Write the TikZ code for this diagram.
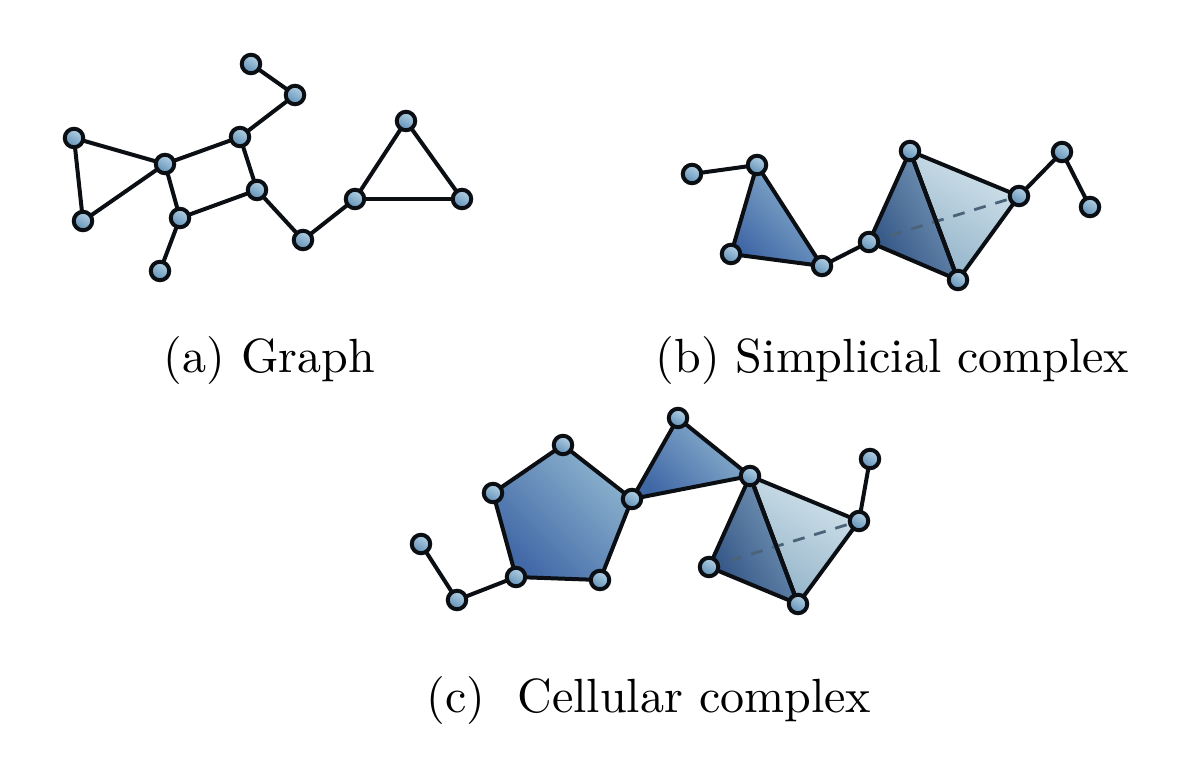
\documentclass[tikz,border=0pt]{standalone}
\usetikzlibrary{backgrounds}
\definecolor{ink}{HTML}{0B0F14}
\definecolor{ballhi}{HTML}{B4D2E4}
\definecolor{balllo}{HTML}{6190B8}
\definecolor{facehi}{HTML}{8FB5CF}
\definecolor{facelo}{HTML}{4067A6}
\definecolor{tetdhi}{HTML}{7C9CB9}
\definecolor{tetdlo}{HTML}{2F5284}
\definecolor{tetlhi}{HTML}{D3E4EC}
\definecolor{tetllo}{HTML}{93B3C9}
\definecolor{hidden}{HTML}{4A6378}
\tikzset{
  x=1pt,y=-1pt,
  vert/.style={circle,draw=ink,line width=4pt,minimum size=18.5pt,inner sep=0pt,shading=axis,top color=ballhi,bottom color=balllo,shading angle=-30},
  edgeline/.style={draw=ink,line width=4pt,line cap=round,line join=round},
  facebox/.style={edgeline,shading=axis,top color=facehi,bottom color=facelo,shading angle=-45},
  darkface/.style={edgeline,shading=axis,top color=tetdhi,bottom color=tetdlo,shading angle=-60},
  lightface/.style={edgeline,shading=axis,top color=tetlhi,bottom color=tetllo,shading angle=-30},
  hiddenedge/.style={draw=hidden,line width=2.8pt,dash pattern=on 12pt off 10pt},
  captext/.style={font=\fontsize{10}{12}\selectfont,scale=4.8,transform shape,anchor=base west,inner sep=0pt}
}
\begin{document}
\begin{tikzpicture}
\useasboundingbox (0,0) rectangle (1200,771);
\foreach \n/\p in {a1/{251,64},a2/{295,95},a3/{240,137},a4/{74,138},a5/{165,164},a6/{83,221},a7/{257,190},a8/{180,218},a9/{160,271},a10/{303,240},a11/{355,199},a12/{406,121},a13/{462,199},
 b1/{692,174},b2/{757,165},b3/{731,254},b4/{822,266},b5/{869,242},b6/{910,151},b7/{1019,196},b8/{958,280},b9/{1062,152},b10/{1090,207},
 c1/{421,544},c2/{457,600},c3/{516,577},c4/{600,580},c5/{632,499},c6/{563,445},c7/{493,493},c8/{678,418},c9/{750,476},c10/{859,521},c11/{870,459},c12/{709,567},c13/{798,604}}
  {\node[vert] (\n) at (\p) {};}
\begin{pgfonlayer}{background}
\foreach \s/\t in {a1/a2,a2/a3,a3/a5,a3/a7,a5/a8,a7/a8,a5/a4,a4/a6,a6/a5,a8/a9,a7/a10,a10/a11,a11/a12,a12/a13,a11/a13,b1/b2,b4/b5,b7/b9,b9/b10,c1/c2,c2/c3,c10/c11}
  {\draw[edgeline] (\s.center) -- (\t.center);}
\path[facebox] (b2.center) -- (b3.center) -- (b4.center) -- cycle;
\path[facebox] (c3.center) -- (c4.center) -- (c5.center) -- (c6.center) -- (c7.center) -- cycle;
\path[facebox] (c5.center) -- (c8.center) -- (c9.center) -- cycle;
\path[lightface] (b6.center) -- (b7.center) -- (b8.center) -- cycle;
\path[darkface] (b6.center) -- (b5.center) -- (b8.center) -- cycle;
\draw[hiddenedge] (b5.center) -- (b7.center);
\draw[edgeline] (b6.center) -- (b8.center);
\path[lightface] (c9.center) -- (c10.center) -- (c13.center) -- cycle;
\path[darkface] (c9.center) -- (c12.center) -- (c13.center) -- cycle;
\draw[hiddenedge] (c12.center) -- (c10.center);
\draw[edgeline] (c9.center) -- (c13.center);
\end{pgfonlayer}
\node[captext] (capa) at (163,372) {(a) Graph};
\node[captext] (capb) at (655,372) {(b) Simplicial complex};
\node[captext] (capc) at (426,712) {(c)\,\, Cellular complex};
\end{tikzpicture}
\end{document}
